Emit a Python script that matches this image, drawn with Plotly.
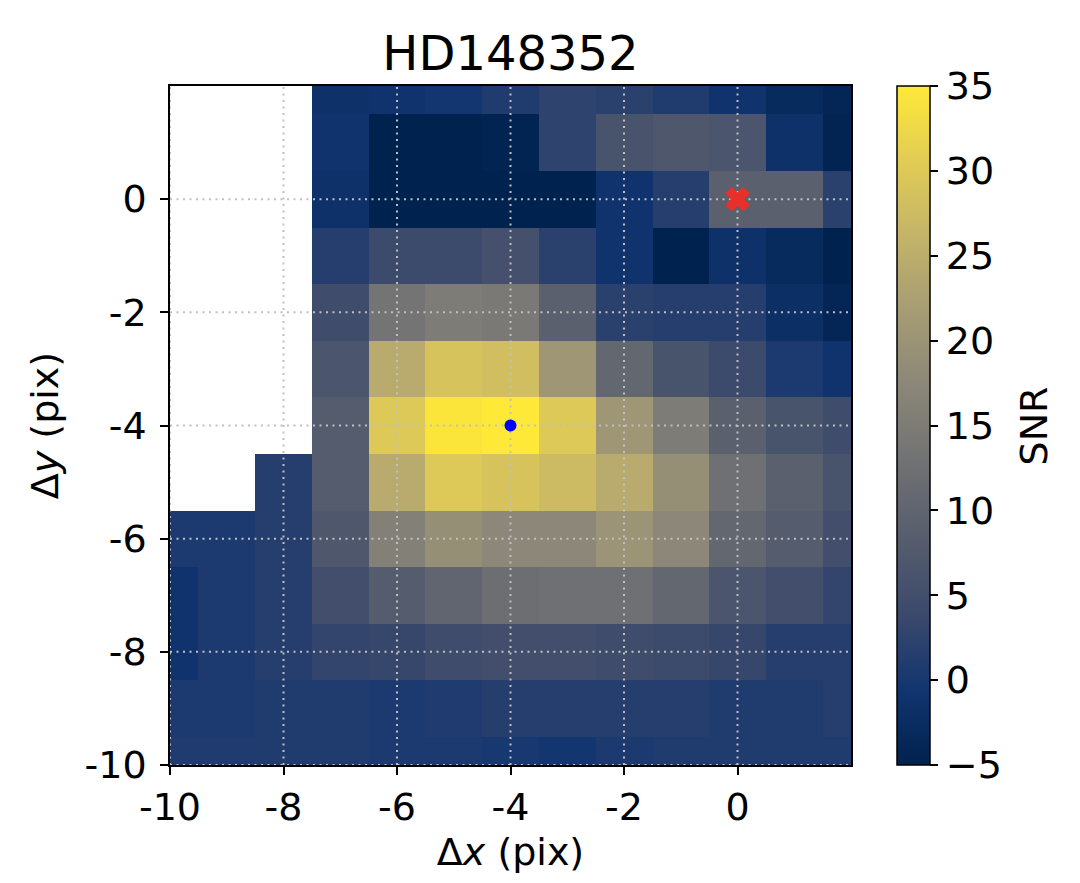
import plotly.graph_objects as go

nan = None
x_centers = [-10, -9, -8, -7, -6, -5, -4, -3, -2, -1, 0, 1, 2]
y_centers = [2, 1, 0, -1, -2, -3, -4, -5, -6, -7, -8, -9, -10]

snr_rows = [
    [nan, nan, nan, -1.5, -1.0, -0.5, 1.0, 2.5, 2.0, 1.0, -1.0, -3.0, -4.0],
    [nan, nan, nan, -1.0, -5.0, -5.0, -4.5, 2.5, 6.0, 7.0, 6.5, -1.5, -4.5],
    [nan, nan, nan, -1.5, -5.0, -5.0, -5.0, -5.0, -1.0, 1.5, 9.0, 9.0, 2.0],
    [nan, nan, nan, 1.5, 4.0, 4.0, 5.5, 2.0, -1.0, -5.0, -1.5, -3.0, -5.0],
    [nan, nan, nan, 4.5, 13.5, 15.0, 14.5, 9.0, 2.0, 1.5, 1.5, -2.0, -4.0],
    [nan, nan, nan, 6.5, 24.5, 29.0, 28.0, 20.5, 10.5, 6.0, 4.0, 0.5, -1.0],
    [nan, nan, nan, 8.0, 30.0, 34.5, 35.0, 30.0, 20.5, 15.0, 9.0, 6.0, 4.5],
    [nan, nan, 1.5, 8.0, 24.5, 30.0, 29.0, 27.5, 24.5, 19.0, 12.5, 9.0, 6.0],
    [0.5, 0.5, 1.5, 7.0, 16.0, 19.0, 17.5, 17.5, 20.0, 17.5, 10.5, 8.0, 5.0],
    [-1.0, 0.5, 1.5, 5.0, 8.0, 10.0, 12.0, 12.5, 12.5, 10.5, 6.5, 5.0, 3.0],
    [-1.0, 0.5, 1.5, 3.0, 3.5, 4.5, 5.0, 5.0, 4.5, 4.0, 3.5, 1.5, 1.5],
    [0.5, 0.5, 1.0, 1.0, 0.5, 0.8, 1.5, 1.5, 1.5, 1.5, 1.0, 1.0, 1.5],
    [0.8, 0.8, 1.0, 1.0, 0.5, 0.5, 0.0, -0.5, 0.5, 1.0, 1.0, 1.0, 1.0],
]

star_x = [0]
star_y = [0]
peak_x = [-4]
peak_y = [-4]

axis_range = [-10, 2]
axis_ticks = [-10, -8, -6, -4, -2, 0]
axis_ticktext = ["-10", "-8", "-6", "-4", "-2", "0"]
cbar_ticks = [-5, 0, 5, 10, 15, 20, 25, 30, 35]
cbar_ticktext = ["\u22125", "0", "5", "10", "15", "20", "25", "30", "35"]

FONT = "DejaVu Sans"

fig = go.Figure()
fig.add_trace(go.Heatmap(
    x=x_centers, y=y_centers, z=snr_rows,
    colorscale="Cividis", zmin=-5, zmax=35,
    hoverongaps=False,
    colorbar=dict(
        x=1.0675, xanchor="left", xref="paper",
        y=0.5, yanchor="middle", len=1.0, lenmode="fraction",
        thickness=33, thicknessmode="pixels",
        outlinewidth=1.5, outlinecolor="black",
        tickvals=cbar_ticks, ticktext=cbar_ticktext,
        ticks="outside", ticklen=8, tickwidth=1.5, tickcolor="black",
        tickfont=dict(family=FONT, size=38, color="black"),
        xpad=0, ypad=0,
    ),
))

# dotted grid lines (drawn above the image, below the markers)
grid_line = dict(color="#c0c0c0", width=2, dash="2px,4.5px")
for t in axis_ticks:
    fig.add_trace(go.Scatter(x=[t, t], y=axis_range, mode="lines", line=grid_line,
                             showlegend=False, hoverinfo="skip"))
    fig.add_trace(go.Scatter(x=axis_range, y=[t, t], mode="lines", line=grid_line,
                             showlegend=False, hoverinfo="skip"))

fig.add_trace(go.Scatter(
    x=star_x, y=star_y, mode="markers",
    marker=dict(symbol="x", size=20, color="#e8302a", line=dict(width=1.5, color="#e8302a")),
    showlegend=False, hoverinfo="skip",
))
fig.add_trace(go.Scatter(
    x=peak_x, y=peak_y, mode="markers",
    marker=dict(symbol="circle", size=12, color="blue", line=dict(width=0)),
    showlegend=False, hoverinfo="skip",
))

axis_common = dict(
    showgrid=False, zeroline=False,
    showline=True, linecolor="black", linewidth=1.5, mirror=True,
    ticks="outside", ticklen=8, tickwidth=1.5, tickcolor="black",
    tickfont=dict(family=FONT, size=38, color="black"),
    tickvals=axis_ticks, ticktext=axis_ticktext,
    layer="above traces",
)

fig.update_layout(
    width=1080, height=883,
    margin=dict(l=170, r=229, t=86, b=118),
    paper_bgcolor="white", plot_bgcolor="white",
    font=dict(family=FONT, color="black"),
    title=dict(text="HD148352", x=0.5, xref="paper", xanchor="center",
               y=1 - 53 / 883, yref="container", yanchor="middle",
               font=dict(family=FONT, size=48, color="black")),
    xaxis=dict(range=axis_range, title=dict(text="\u0394<i>x</i> (pix)", standoff=10,
                                            font=dict(family=FONT, size=38, color="black")),
               **axis_common),
    yaxis=dict(range=axis_range, title=dict(text="\u0394<i>y</i> (pix)", standoff=14,
                                            font=dict(family=FONT, size=38, color="black")),
               ticklabelstandoff=6, **axis_common),
    annotations=[dict(text="SNR", textangle=-90, xref="paper", yref="paper",
                      x=1.2687, y=0.5, xanchor="center", yanchor="middle",
                      showarrow=False, font=dict(family=FONT, size=38, color="black"))],
    showlegend=False,
)

fig.write_html("out.html")
